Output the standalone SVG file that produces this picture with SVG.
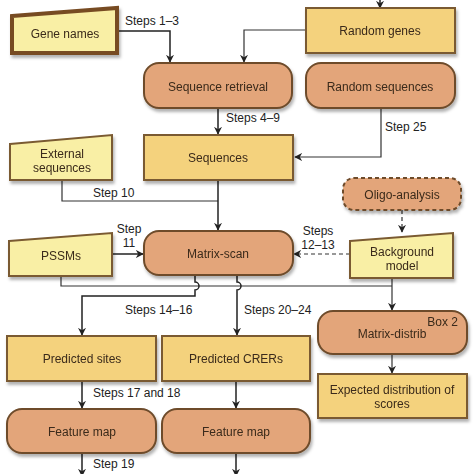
<svg xmlns="http://www.w3.org/2000/svg" width="474" height="474" viewBox="0 0 474 474">
<defs>
<filter id="sh" x="-10%" y="-10%" width="125%" height="135%">
<feDropShadow dx="1.5" dy="3" stdDeviation="1.8" flood-color="#000" flood-opacity="0.3"/>
</filter>
<marker id="ah" viewBox="0 0 10 10" refX="9" refY="5" markerWidth="8" markerHeight="8" markerUnits="userSpaceOnUse" orient="auto">
<path d="M0,0 L10,5 L0,10 L3,5 Z" fill="#222"/>
</marker>
</defs>
<style>
text{font-family:"Liberation Sans",Arial,sans-serif;font-size:12px;fill:#3a2a1a}
.c{text-anchor:middle}
.lb{fill:#222}
.pale{fill:#f9efa5;stroke:#7a5a30;stroke-width:2}
.gold{fill:#f4d27d;stroke:#7a5a30;stroke-width:2}
.or{fill:#e3a57a;stroke:#6e4c2c;stroke-width:2}
.ln{fill:none;stroke:#222;stroke-width:1.5}
.thin{fill:none;stroke:#333;stroke-width:1.2}
.ar{marker-end:url(#ah)}
.dash{stroke-dasharray:4 3}
</style>
<rect width="474" height="474" fill="#fff"/>

<g id="connectors">
<path class="ln ar" d="M117,31 H170 V62"/>
<path class="ln ar" d="M380,0 V8"/>
<path class="thin ar" d="M306,30 H244 V62"/>
<path class="ln ar" d="M218,108 V134"/>
<path class="thin ar" d="M381,108 V157 H295"/>
<path class="thin" d="M62,180 V201 H218"/>
<path class="ln ar" d="M218,180 V230"/>
<path class="ln ar" d="M112,254 H143"/>
<path class="thin dash ar" d="M402,210 V232"/>
<path class="thin dash ar" d="M350,254 H294"/>
<path class="thin" d="M61,276 V286 H392"/>
<path class="thin ar" d="M392,276 V310"/>
<path class="ln ar" d="M195,275 V282 A4,4 0 0 1 195,290 V296 H82 V335"/>
<path class="ln ar" d="M237,275 V282 A4,4 0 0 1 237,290 V335"/>
<path class="thin ar" d="M392,354 V373"/>
<path class="ln ar" d="M82,381 V408"/>
<path class="ln ar" d="M236,381 V408"/>
<path class="ln ar" d="M82,453 V476"/>
<path class="ln ar" d="M236,453 V476"/>
<text class="lb" x="125" y="25">Steps 1–3</text>
<text class="lb" x="226" y="122">Steps 4–9</text>
<text class="lb" x="385" y="131">Step 25</text>
<text class="lb" x="93" y="197">Step 10</text>
<text class="lb c" x="129" y="233">Step</text>
<text class="lb c" x="129" y="247">11</text>
<text class="lb c" x="318" y="235">Steps</text>
<text class="lb c" x="318" y="249">12–13</text>
<text class="lb" x="125" y="314">Steps 14–16</text>
<text class="lb" x="244" y="314">Steps 20–24</text>
<text class="lb" x="93" y="397">Steps 17 and 18</text>
<text class="lb" x="93" y="468">Step 19</text>
</g>

<g id="gene-names" filter="url(#sh)">
<polygon points="12,16 117,8 117,53 12,53" fill="#f9efa5" stroke="#774b22" stroke-width="4"/>
<text class="c" x="65" y="38">Gene names</text>
</g>
<g id="random-genes" filter="url(#sh)">
<rect class="gold" x="306" y="8" width="149" height="45"/>
<text class="c" x="380" y="35">Random genes</text>
</g>
<g id="sequence-retrieval" filter="url(#sh)">
<rect class="or" x="144" y="63" width="148" height="45" rx="15"/>
<text class="c" x="218" y="91">Sequence retrieval</text>
</g>
<g id="random-sequences" filter="url(#sh)">
<rect class="or" x="306" y="63" width="149" height="45" rx="15"/>
<text class="c" x="380" y="91">Random sequences</text>
</g>
<g id="external-sequences" filter="url(#sh)">
<polygon class="pale" points="10,144 112,135 112,180 10,180"/>
<text class="c" x="62" y="158">External</text>
<text class="c" x="62" y="172">sequences</text>
</g>
<g id="sequences" filter="url(#sh)">
<rect class="gold" x="144" y="135" width="149" height="45"/>
<text class="c" x="218" y="162">Sequences</text>
</g>
<g id="oligo-analysis" filter="url(#sh)">
<rect class="or dash" x="343" y="178" width="118" height="32" rx="11"/>
<text class="c" x="402" y="199">Oligo-analysis</text>
</g>
<g id="pssms" filter="url(#sh)">
<polygon class="pale" points="9,241 112,233 112,276 9,276"/>
<text class="c" x="61" y="260">PSSMs</text>
</g>
<g id="matrix-scan" filter="url(#sh)">
<rect class="or" x="144" y="231" width="149" height="44" rx="15"/>
<text class="c" x="218" y="258">Matrix-scan</text>
</g>
<g id="background-model" filter="url(#sh)">
<polygon class="pale" points="350,241 453,233 453,278 350,278"/>
<text class="c" x="402" y="256">Background</text>
<text class="c" x="402" y="270">model</text>
</g>
<g id="predicted-sites" filter="url(#sh)">
<rect class="gold" x="7" y="336" width="149" height="45"/>
<text class="c" x="82" y="363">Predicted sites</text>
</g>
<g id="predicted-crers" filter="url(#sh)">
<rect class="gold" x="162" y="336" width="148" height="45"/>
<text class="c" x="236" y="363">Predicted CRERs</text>
</g>
<g id="matrix-distrib" filter="url(#sh)">
<rect class="or" x="318" y="311" width="149" height="43" rx="15"/>
<text x="458" y="326" text-anchor="end">Box 2</text>
<text class="c" x="392" y="338">Matrix-distrib</text>
</g>
<g id="expected-distribution" filter="url(#sh)">
<rect class="gold" x="318" y="374" width="149" height="44"/>
<text class="c" x="392" y="394">Expected distribution of</text>
<text class="c" x="392" y="408">scores</text>
</g>
<g id="feature-map-1" filter="url(#sh)">
<rect class="or" x="7" y="409" width="149" height="44" rx="15"/>
<text class="c" x="82" y="436">Feature map</text>
</g>
<g id="feature-map-2" filter="url(#sh)">
<rect class="or" x="162" y="409" width="148" height="44" rx="15"/>
<text class="c" x="236" y="436">Feature map</text>
</g>
</svg>
